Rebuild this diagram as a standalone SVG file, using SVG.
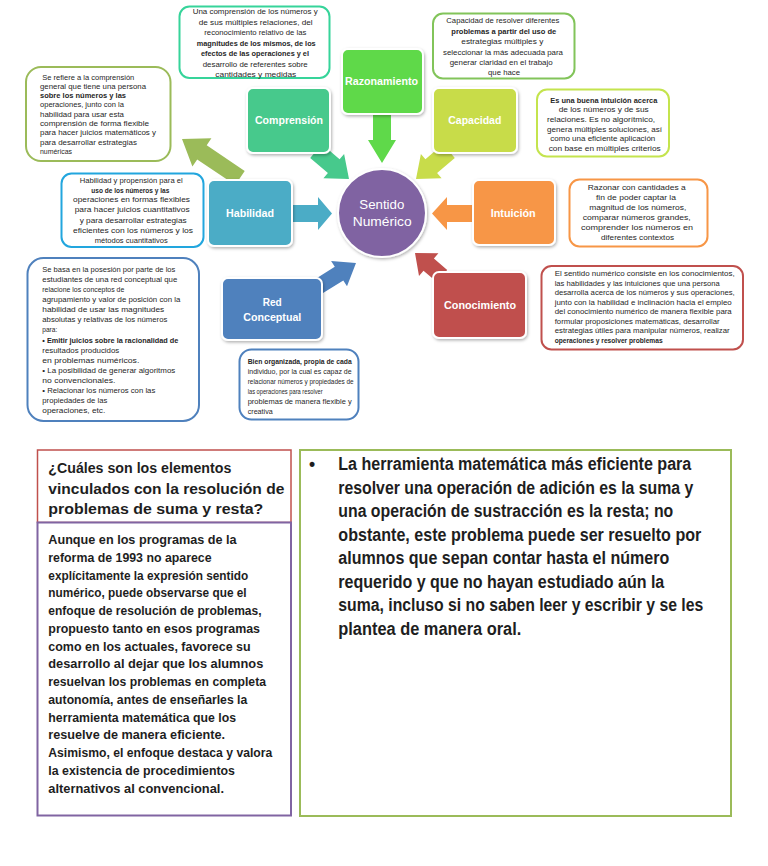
<svg xmlns="http://www.w3.org/2000/svg" width="768" height="866" viewBox="0 0 768 866">
<defs>
<filter id="sh" x="-20%" y="-20%" width="140%" height="140%">
<feDropShadow dx="1" dy="1.5" stdDeviation="1.5" flood-color="#000" flood-opacity="0.3"/>
</filter>
<style>
.bx{fill:#fff;stroke-width:2}
.st{font-family:"Liberation Sans",Arial,sans-serif;font-size:7.2px;fill:#262626}
.b{font-weight:bold}
.nd{stroke:#fff;stroke-width:2;filter:url(#sh)}
.nl{font-family:"Liberation Sans",Arial,sans-serif;font-size:11px;font-weight:bold;fill:#fff}
.bt{font-family:"Liberation Sans",Arial,sans-serif;font-weight:bold;fill:#1e1e1e}
</style>
</defs>
<rect width="768" height="866" fill="#fff"/>

<g id="connectors">
<polygon fill="#9BBB59" points="244.7,170.9 206.7,145.3 211.4,138.3 182,139 192.4,166.5 197.2,159.5 235.3,185.1"/>
<polygon fill="#47C98C" points="310.2,157.9 327.9,172.9 323.4,178.3 349,179 344.1,153.9 339.6,159.2 321.8,144.1"/>
<polygon fill="#5FD94A" points="373,112 373,140 368,140 382,163 396,140 391,140 391,112"/>
<polygon fill="#C8DC4A" points="454.8,157.9 437.1,172.9 441.6,178.3 416,179 420.9,153.9 425.4,159.2 443.2,144.1"/>
<polygon fill="#4BACC6" points="290,205 318,205 318,197 332,213.5 318,230 318,222 290,222"/>
<polygon fill="#F79646" points="475,205 447,205 447,197 432,213.5 447,230 447,222 475,222"/>
<polygon fill="#4F81BD" points="320.2,294.8 343.3,280.4 347,286.3 356,263 331.1,260.9 334.8,266.8 311.8,281.2"/>
<polygon fill="#C0504D" points="447.2,269.9 433.9,258.6 438.4,253.2 415,253 419,276.1 423.5,270.8 436.8,282.1"/>
</g>

<g id="node-razonamiento">
<rect class="nd" x="342" y="49" width="81" height="65" rx="6" fill="#5FD94A"/>
<text class="nl" x="345" y="85" textLength="73" lengthAdjust="spacingAndGlyphs">Razonamiento</text>
</g>
<g id="node-comprension">
<rect class="nd" x="247" y="88" width="83" height="65" rx="6" fill="#47C98C"/>
<text class="nl" x="255" y="123.5" textLength="68" lengthAdjust="spacingAndGlyphs">Comprensión</text>
</g>
<g id="node-capacidad">
<rect class="nd" x="433" y="88" width="84" height="65" rx="6" fill="#C8DC4A"/>
<text class="nl" x="448.3" y="123.5" textLength="53" lengthAdjust="spacingAndGlyphs">Capacidad</text>
</g>
<g id="node-habilidad">
<rect class="nd" x="208" y="180" width="84" height="66" rx="6" fill="#4BACC6"/>
<text class="nl" x="226" y="217" textLength="48" lengthAdjust="spacingAndGlyphs">Habilidad</text>
</g>
<g id="node-intuicion">
<rect class="nd" x="473" y="180" width="82" height="65" rx="6" fill="#F79646"/>
<text class="nl" x="490.7" y="217" textLength="45" lengthAdjust="spacingAndGlyphs">Intuición</text>
</g>
<g id="node-red">
<rect class="nd" x="222" y="278" width="100" height="62" rx="6" fill="#4F81BD"/>
<text class="nl" x="262.7" y="306" textLength="19" lengthAdjust="spacingAndGlyphs">Red</text>
<text class="nl" x="243.3" y="321" textLength="58" lengthAdjust="spacingAndGlyphs">Conceptual</text>
</g>
<g id="node-conocimiento">
<rect class="nd" x="433" y="272" width="93" height="66" rx="6" fill="#C0504D"/>
<text class="nl" x="444" y="309" textLength="72" lengthAdjust="spacingAndGlyphs">Conocimiento</text>
</g>
<g id="node-sentido">
<circle class="nd" cx="382" cy="213" r="44" fill="#8064A2" stroke-width="2.5"/>
<text class="nl" x="359.3" y="208.5" style="font-size:13px;font-weight:normal" textLength="45" lengthAdjust="spacingAndGlyphs">Sentido</text>
<text class="nl" x="352.7" y="225.5" style="font-size:13px;font-weight:normal" textLength="59" lengthAdjust="spacingAndGlyphs">Numérico</text>
</g>

<g id="note-comprension">
<rect class="bx" x="179.5" y="6.5" width="150" height="71.5" rx="10" stroke="#36D49A"/>
<text class="st" x="192.7" y="14" textLength="125" lengthAdjust="spacingAndGlyphs">Una comprensión de los números y</text>
<text class="st" x="198.7" y="24.5" textLength="114" lengthAdjust="spacingAndGlyphs">de sus múltiples relaciones, del</text>
<text class="st" x="204.3" y="35" textLength="102" lengthAdjust="spacingAndGlyphs">reconocimiento relativo de las</text>
<text class="st b" x="196.7" y="45.5" textLength="119" lengthAdjust="spacingAndGlyphs">magnitudes de los mismos, de los</text>
<text class="st b" x="201" y="56" textLength="108" lengthAdjust="spacingAndGlyphs">efectos de las operaciones y el</text>
<text class="st" x="202.7" y="66.5" textLength="105" lengthAdjust="spacingAndGlyphs">desarrollo de referentes sobre</text>
<text class="st" x="215.3" y="77" textLength="81" lengthAdjust="spacingAndGlyphs">cantidades y medidas</text>
</g>

<g id="note-general">
<rect class="bx" x="26" y="67" width="144.5" height="94" rx="15" stroke="#9BBB59"/>
<text class="st" x="42.3" y="79.5" textLength="92" lengthAdjust="spacingAndGlyphs">Se refiere a la comprensión</text>
<text class="st" x="40" y="88.8" textLength="106" lengthAdjust="spacingAndGlyphs">general que tiene una persona</text>
<text class="st b" x="40" y="98.1" textLength="86" lengthAdjust="spacingAndGlyphs">sobre los números y las</text>
<text class="st" x="40" y="107.4" textLength="84" lengthAdjust="spacingAndGlyphs">operaciones, junto con la</text>
<text class="st" x="40" y="116.7" textLength="84" lengthAdjust="spacingAndGlyphs">habilidad para usar esta</text>
<text class="st" x="40" y="126" textLength="109" lengthAdjust="spacingAndGlyphs">comprensión de forma flexible</text>
<text class="st" x="40" y="135.3" textLength="116" lengthAdjust="spacingAndGlyphs">para hacer juicios matemáticos y</text>
<text class="st" x="40" y="144.6" textLength="97" lengthAdjust="spacingAndGlyphs">para desarrollar estrategias</text>
<text class="st" x="40" y="153.9" textLength="32" lengthAdjust="spacingAndGlyphs">numéricas</text>
</g>

<g id="note-razonamiento">
<rect class="bx" x="433" y="13.5" width="141.5" height="65" rx="10" stroke="#82C45A"/>
<text class="st" x="446.3" y="22.5" textLength="113" lengthAdjust="spacingAndGlyphs">Capacidad de resolver diferentes</text>
<text class="st b" x="451.3" y="34.2" textLength="105" lengthAdjust="spacingAndGlyphs">problemas a partir del uso de</text>
<text class="st" x="461.3" y="44.2" textLength="82" lengthAdjust="spacingAndGlyphs">estrategias múltiples y</text>
<text class="st" x="443" y="55.2" textLength="120" lengthAdjust="spacingAndGlyphs">seleccionar la más adecuada para</text>
<text class="st" x="449.7" y="65.2" textLength="103" lengthAdjust="spacingAndGlyphs">generar claridad en el trabajo</text>
<text class="st" x="488" y="74.5" textLength="32" lengthAdjust="spacingAndGlyphs">que hace</text>
</g>

<g id="note-capacidad">
<rect class="bx" x="537" y="89.5" width="132" height="67" rx="10" stroke="#C4E44E"/>
<text class="st b" x="550.3" y="102.5" textLength="107" lengthAdjust="spacingAndGlyphs">Es una buena intuición acerca</text>
<text class="st" x="558.7" y="111.8" textLength="90" lengthAdjust="spacingAndGlyphs">de los números y de sus</text>
<text class="st" x="547" y="121.8" textLength="108" lengthAdjust="spacingAndGlyphs">relaciones. Es no algorítmico,</text>
<text class="st" x="547" y="131.8" textLength="115" lengthAdjust="spacingAndGlyphs">genera múltiples soluciones, así</text>
<text class="st" x="550.3" y="141.2" textLength="105" lengthAdjust="spacingAndGlyphs">como una eficiente aplicación</text>
<text class="st" x="548.7" y="150.5" textLength="112" lengthAdjust="spacingAndGlyphs">con base en múltiples criterios</text>
</g>

<g id="note-habilidad">
<rect class="bx" x="61.5" y="173.5" width="142" height="73.5" rx="10" stroke="#22A6DE"/>
<text class="st" x="79.7" y="182.5" textLength="103" lengthAdjust="spacingAndGlyphs">Habilidad y propensión para el</text>
<text class="st b" x="91.3" y="192.5" textLength="78" lengthAdjust="spacingAndGlyphs">uso de los números y las</text>
<text class="st" x="73" y="201.8" textLength="117" lengthAdjust="spacingAndGlyphs">operaciones en formas flexibles</text>
<text class="st" x="74.7" y="211.8" textLength="115" lengthAdjust="spacingAndGlyphs">para hacer juicios cuantitativos</text>
<text class="st" x="79.7" y="222.5" textLength="107" lengthAdjust="spacingAndGlyphs">y para desarrollar estrategias</text>
<text class="st" x="73" y="232.5" textLength="120" lengthAdjust="spacingAndGlyphs">eficientes con los números y los</text>
<text class="st" x="94.7" y="242.5" textLength="73" lengthAdjust="spacingAndGlyphs">métodos cuantitativos</text>
</g>

<g id="note-intuicion">
<rect class="bx" x="569.5" y="179.5" width="138" height="67" rx="10" stroke="#F79646"/>
<text class="st" x="587.7" y="190.2" textLength="98" lengthAdjust="spacingAndGlyphs">Razonar con cantidades a</text>
<text class="st" x="596" y="200.2" textLength="80" lengthAdjust="spacingAndGlyphs">fin de poder captar la</text>
<text class="st" x="589.3" y="210.2" textLength="97" lengthAdjust="spacingAndGlyphs">magnitud de los números,</text>
<text class="st" x="582.7" y="220.2" textLength="108" lengthAdjust="spacingAndGlyphs">comparar números grandes,</text>
<text class="st" x="581" y="230.2" textLength="112" lengthAdjust="spacingAndGlyphs">comprender los números en</text>
<text class="st" x="601" y="240.2" textLength="73" lengthAdjust="spacingAndGlyphs">diferentes contextos</text>
</g>

<g id="note-red">
<rect class="bx" x="27.5" y="258" width="171.5" height="163" rx="16" stroke="#4F81BD"/>
<text class="st" x="42.3" y="271.8" textLength="133" lengthAdjust="spacingAndGlyphs">Se basa en la posesión por parte de los</text>
<text class="st" x="42.3" y="281.9" textLength="135" lengthAdjust="spacingAndGlyphs">estudiantes de una red conceptual que</text>
<text class="st" x="42.3" y="292" textLength="82" lengthAdjust="spacingAndGlyphs">relacione los conceptos de</text>
<text class="st" x="42.3" y="302.1" textLength="138" lengthAdjust="spacingAndGlyphs">agrupamiento y valor de posición con la</text>
<text class="st" x="42.3" y="312.2" textLength="122" lengthAdjust="spacingAndGlyphs">habilidad de usar las magnitudes</text>
<text class="st" x="42.3" y="322.3" textLength="125" lengthAdjust="spacingAndGlyphs">absolutas y relativas de los números</text>
<text class="st" x="42.3" y="332.4" textLength="15" lengthAdjust="spacingAndGlyphs">para:</text>
<text class="st b" x="42.3" y="342.5" textLength="136" lengthAdjust="spacingAndGlyphs">• Emitir juicios sobre la racionalidad de</text>
<text class="st" x="42.3" y="352.6" textLength="77" lengthAdjust="spacingAndGlyphs">resultados producidos</text>
<text class="st" x="42.3" y="362.7" textLength="97" lengthAdjust="spacingAndGlyphs">en problemas numéricos.</text>
<text class="st" x="42.3" y="372.8" textLength="133" lengthAdjust="spacingAndGlyphs">• La posibilidad de generar algoritmos</text>
<text class="st" x="42.3" y="382.9" textLength="73" lengthAdjust="spacingAndGlyphs">no convencionales.</text>
<text class="st" x="42.3" y="393" textLength="113" lengthAdjust="spacingAndGlyphs">• Relacionar los números con las</text>
<text class="st" x="42.3" y="403.1" textLength="65" lengthAdjust="spacingAndGlyphs">propiedades de las</text>
<text class="st" x="42.3" y="413.2" textLength="63" lengthAdjust="spacingAndGlyphs">operaciones, etc.</text>
</g>

<g id="note-conocimiento">
<rect class="bx" x="541.5" y="266" width="201.5" height="83.5" rx="10" stroke="#C0504D"/>
<text class="st" x="554.7" y="276.2" textLength="180" lengthAdjust="spacingAndGlyphs">El sentido numérico consiste en los conocimientos,</text>
<text class="st" x="554.7" y="285.7" textLength="165" lengthAdjust="spacingAndGlyphs">las habilidades y las intuiciones que una persona</text>
<text class="st" x="554.7" y="295.2" textLength="180" lengthAdjust="spacingAndGlyphs">desarrolla acerca de los números y sus operaciones,</text>
<text class="st" x="554.7" y="304.7" textLength="177" lengthAdjust="spacingAndGlyphs">junto con la habilidad e inclinación hacia el empleo</text>
<text class="st" x="554.7" y="314.2" textLength="177" lengthAdjust="spacingAndGlyphs">del conocimiento numérico de manera flexible para</text>
<text class="st" x="554.7" y="323.7" textLength="165" lengthAdjust="spacingAndGlyphs">formular proposiciones matemáticas, desarrollar</text>
<text class="st" x="554.7" y="333.2" textLength="175" lengthAdjust="spacingAndGlyphs">estrategias útiles para manipular números, realizar</text>
<text class="st b" x="554.7" y="342.7" textLength="108" lengthAdjust="spacingAndGlyphs">operaciones y resolver problemas</text>
</g>

<g id="note-organizada">
<rect class="bx" x="239.5" y="349.5" width="119" height="70" rx="12" stroke="#4F81BD"/>
<text class="st b" x="247.7" y="363.5" textLength="104" lengthAdjust="spacingAndGlyphs">Bien organizada, propia de cada</text>
<text class="st" x="247.7" y="373.5" textLength="104" lengthAdjust="spacingAndGlyphs">individuo, por la cual es capaz de</text>
<text class="st" x="247.7" y="383.5" textLength="106" lengthAdjust="spacingAndGlyphs">relacionar números y propiedades de</text>
<text class="st" x="247.7" y="393.5" textLength="75" lengthAdjust="spacingAndGlyphs">las operaciones para resolver</text>
<text class="st" x="247.7" y="403.5" textLength="104" lengthAdjust="spacingAndGlyphs">problemas de manera flexible y</text>
<text class="st" x="247.7" y="413.5" textLength="25" lengthAdjust="spacingAndGlyphs">creativa</text>
</g>

<g id="question">
<rect x="37.5" y="450" width="253.5" height="72.5" fill="#fff" stroke="#C0504D" stroke-width="1.5"/>
<text class="bt" x="48.3" y="473" font-size="14.5" textLength="183" lengthAdjust="spacingAndGlyphs">¿Cuáles son los elementos</text>
<text class="bt" x="48.3" y="493.5" font-size="14.5" textLength="236" lengthAdjust="spacingAndGlyphs">vinculados con la resolución de</text>
<text class="bt" x="48.3" y="514" font-size="14.5" textLength="215" lengthAdjust="spacingAndGlyphs">problemas de suma y resta?</text>
</g>

<g id="answer">
<rect x="37.5" y="522.5" width="253.5" height="293" fill="#fff" stroke="#8064A2" stroke-width="2"/>
<g class="bt" font-size="12.8">
<text x="48.3" y="544" textLength="188.3" lengthAdjust="spacingAndGlyphs">Aunque en los programas de la</text>
<text x="48.3" y="561.75" textLength="163.3" lengthAdjust="spacingAndGlyphs">reforma de 1993 no aparece</text>
<text x="48.3" y="579.5" textLength="200" lengthAdjust="spacingAndGlyphs">explícitamente la expresión sentido</text>
<text x="48.3" y="597.25" textLength="198.3" lengthAdjust="spacingAndGlyphs">numérico, puede observarse que el</text>
<text x="48.3" y="615" textLength="213.3" lengthAdjust="spacingAndGlyphs">enfoque de resolución de problemas,</text>
<text x="48.3" y="632.75" textLength="211.7" lengthAdjust="spacingAndGlyphs">propuesto tanto en esos programas</text>
<text x="48.3" y="650.5" textLength="202.3" lengthAdjust="spacingAndGlyphs">como en los actuales, favorece su</text>
<text x="48.3" y="668.25" textLength="215" lengthAdjust="spacingAndGlyphs">desarrollo al dejar que los alumnos</text>
<text x="48.3" y="686" textLength="217.7" lengthAdjust="spacingAndGlyphs">resuelvan los problemas en completa</text>
<text x="48.3" y="703.75" textLength="199" lengthAdjust="spacingAndGlyphs">autonomía, antes de enseñarles la</text>
<text x="48.3" y="721.5" textLength="187.7" lengthAdjust="spacingAndGlyphs">herramienta matemática que los</text>
<text x="48.3" y="739.25" textLength="176.7" lengthAdjust="spacingAndGlyphs">resuelve de manera eficiente.</text>
<text x="48.3" y="757" textLength="224" lengthAdjust="spacingAndGlyphs">Asimismo, el enfoque destaca y valora</text>
<text x="48.3" y="774.75" textLength="186.7" lengthAdjust="spacingAndGlyphs">la existencia de procedimientos</text>
<text x="48.3" y="792.5" textLength="175.7" lengthAdjust="spacingAndGlyphs">alternativos al convencional.</text>
</g>
</g>

<g id="statement">
<rect x="300" y="450" width="431" height="366" fill="#fff" stroke="#9BBB59" stroke-width="2"/>
<g class="bt" font-size="17.5">
<text x="309" y="470">•</text>
<text x="338.3" y="470" textLength="353" lengthAdjust="spacingAndGlyphs">La herramienta matemática más eficiente para</text>
<text x="338.3" y="493.5" textLength="355" lengthAdjust="spacingAndGlyphs">resolver una operación de adición es la suma y</text>
<text x="338.3" y="517" textLength="335" lengthAdjust="spacingAndGlyphs">una operación de sustracción es la resta; no</text>
<text x="338.3" y="540.5" textLength="363" lengthAdjust="spacingAndGlyphs">obstante, este problema puede ser resuelto por</text>
<text x="338.3" y="564" textLength="331" lengthAdjust="spacingAndGlyphs">alumnos que sepan contar hasta el número</text>
<text x="338.3" y="587.5" textLength="326" lengthAdjust="spacingAndGlyphs">requerido y que no hayan estudiado aún la</text>
<text x="338.3" y="611" textLength="365" lengthAdjust="spacingAndGlyphs">suma, incluso si no saben leer y escribir y se les</text>
<text x="338.3" y="634.5" textLength="183" lengthAdjust="spacingAndGlyphs">plantea de manera oral.</text>
</g>
</g>
</svg>
